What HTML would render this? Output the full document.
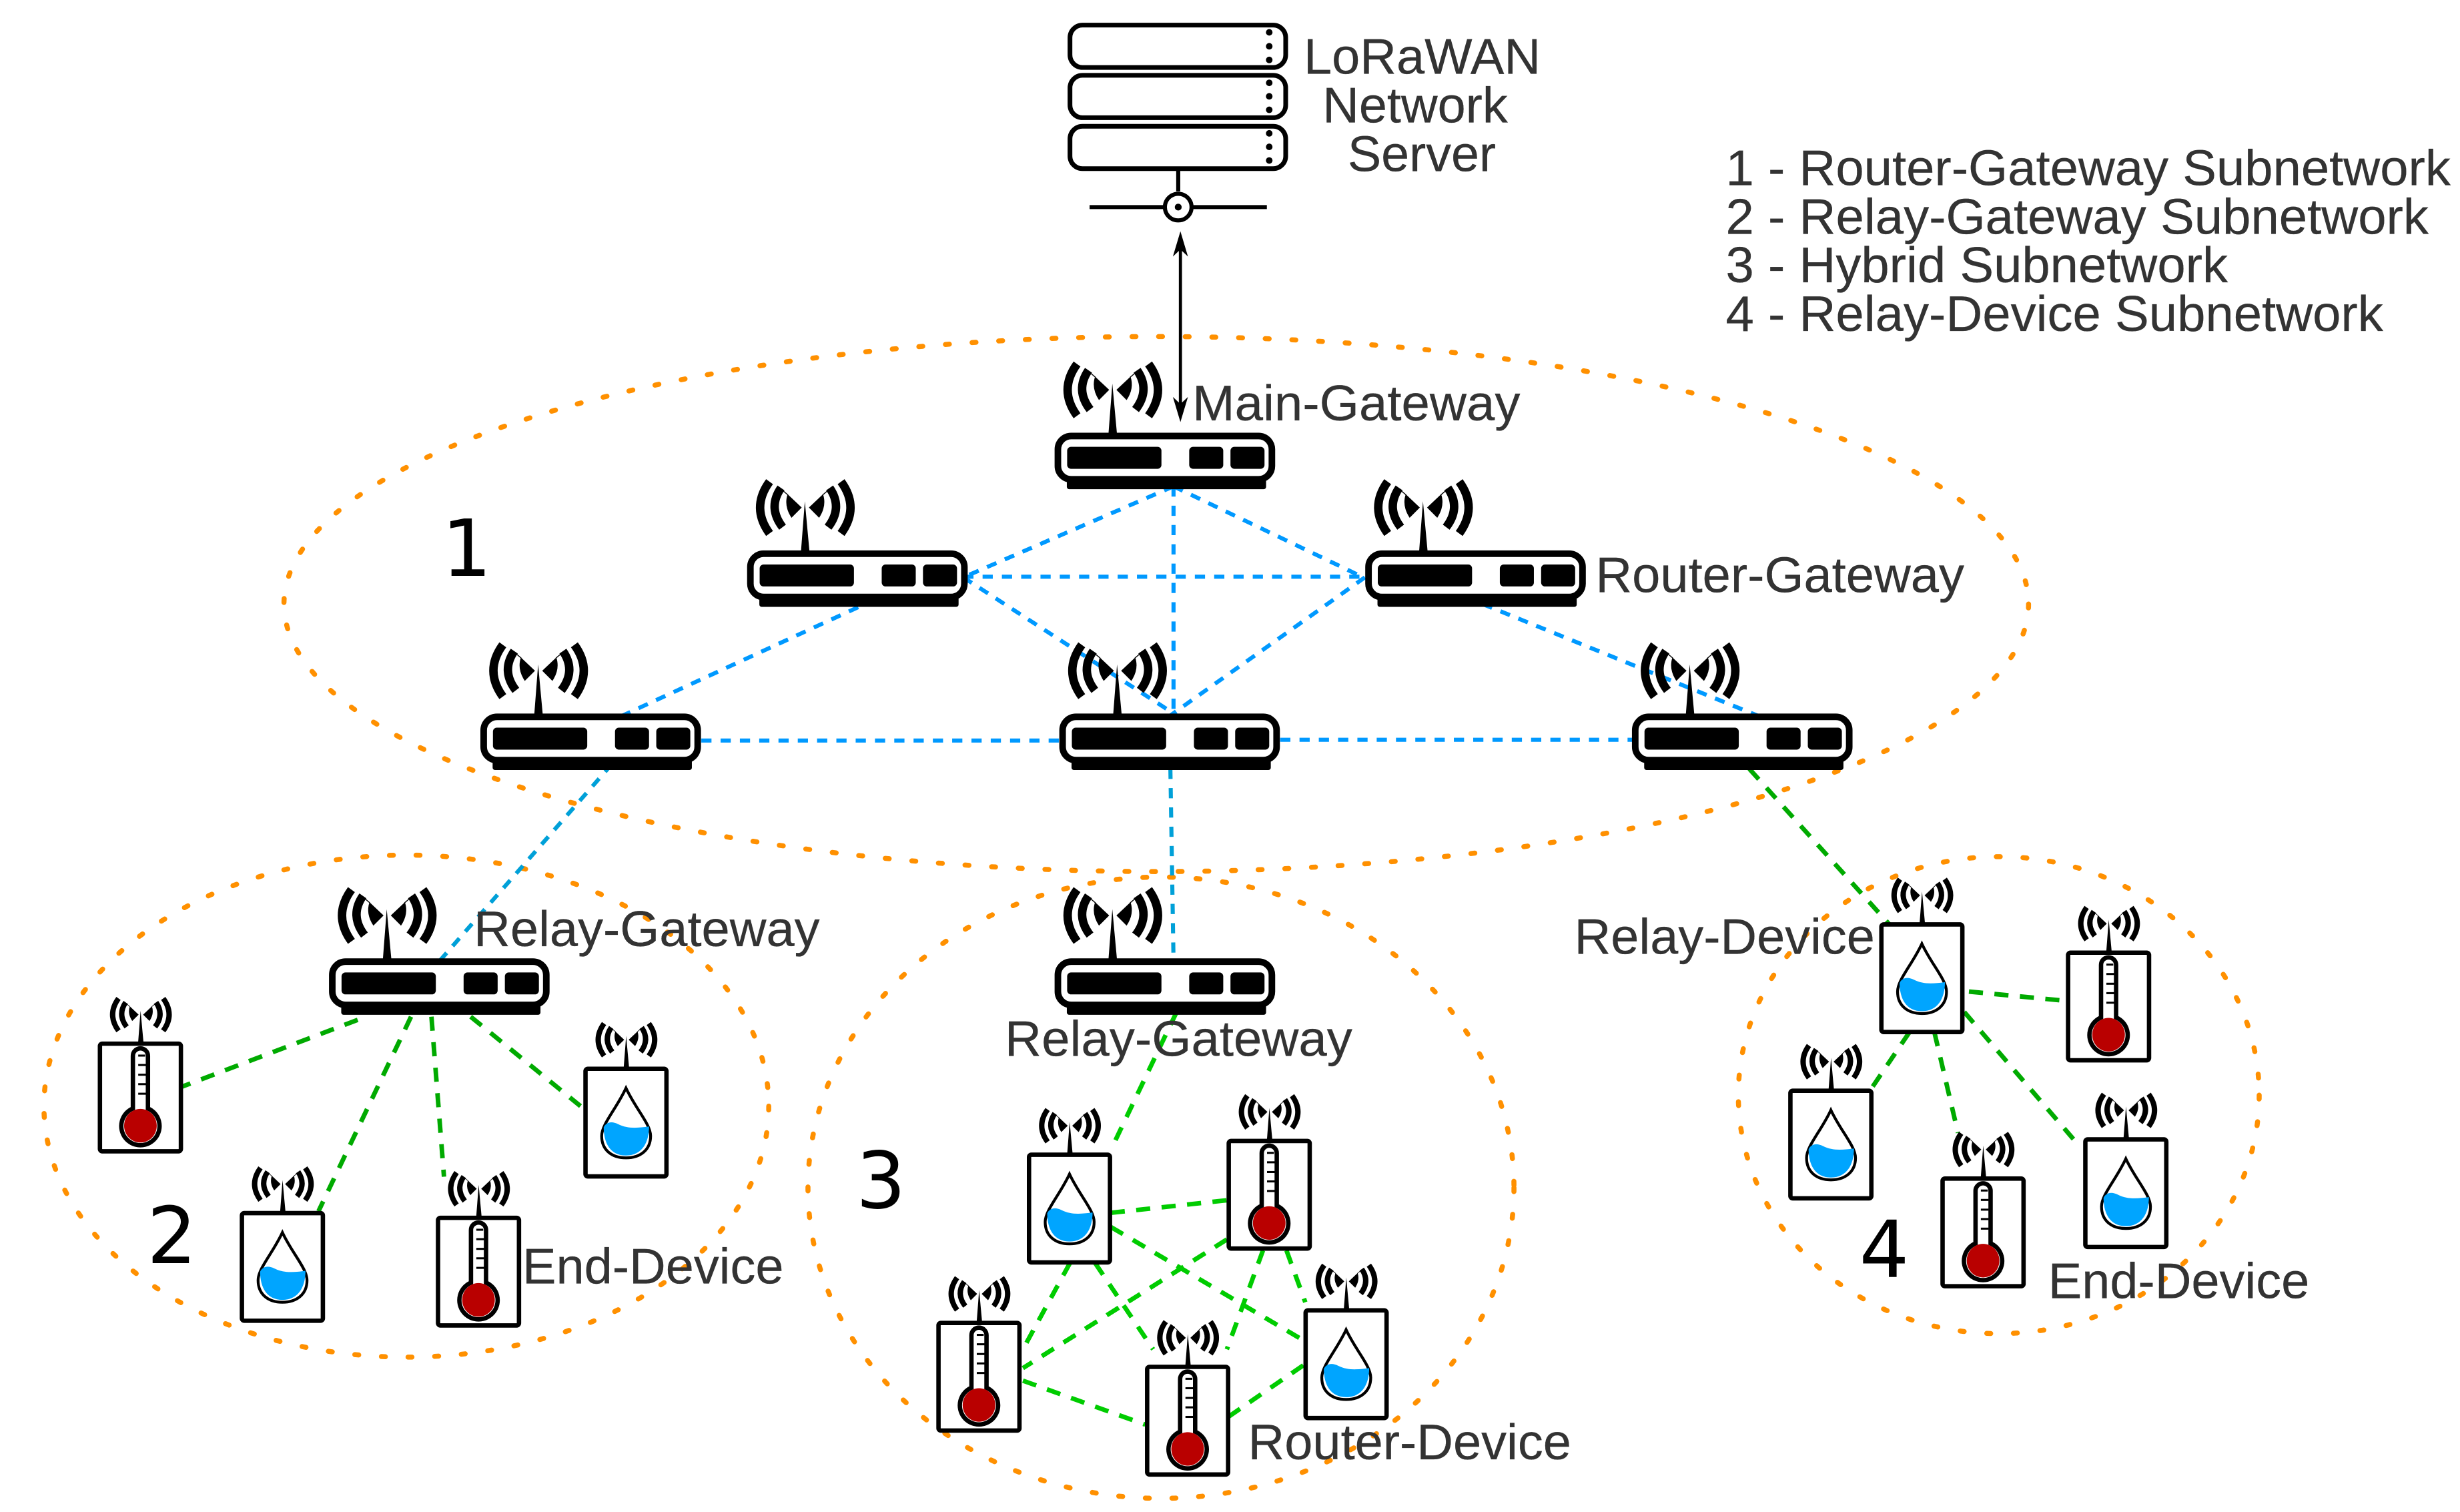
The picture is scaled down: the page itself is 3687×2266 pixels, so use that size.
<!DOCTYPE html>
<html><head><meta charset="utf-8"><style>
html,body{margin:0;padding:0;background:#fff}
svg{display:block}
text{font-family:"Liberation Sans",sans-serif;font-size:32px;fill:#333;stroke:#333;stroke-width:.12}
.n{font-family:"DejaVu Sans",sans-serif;font-size:50px;fill:#000;stroke:none;text-anchor:middle}
.o{fill:none;stroke:#ff9000;stroke-width:3.2;stroke-dasharray:2.5 14.5;stroke-linecap:round}
.b line{stroke:#0099ff;stroke-width:2.6;stroke-dasharray:6.5 5.8}
.g line{stroke:#00aa00;stroke-width:2.9;stroke-dasharray:9 7.3}
.g3 line{stroke:#00cc00}
</style></head><body>
<svg width="3687" height="2266" viewBox="0 0 1568 963.7" preserveAspectRatio="none" xmlns="http://www.w3.org/2000/svg">
<defs>
<g id="ant">
<polygon points="36,-32.5 33.5,0 39,0" fill="#000"/>
<g transform="translate(-.7,0)">
<g id="half" fill="none" stroke="#000" stroke-width="5.4">
<path d="M14.2,-45 Q2.2,-28.5 14.2,-12"/>
<path d="M21.5,-41 Q12.9,-28.5 22.5,-16"/>
<path d="M25.7,-37 L34.7,-28.5 L28.2,-22 Q23.2,-29.5 25.7,-37Z" fill="#000" stroke="none"/>
<line x1="19.5" y1="-42" x2="26" y2="-36.5" stroke-width=".6"/>
</g>
<use href="#half" transform="translate(74,0) scale(-1,1)"/>
</g>
</g>
<g id="router">
<use href="#ant"/>
<rect x="7" y="24" width="127" height="10.8" rx="1.5" fill="#000"/>
<rect x="1.3" y=".9" width="136.4" height="27.6" rx="8.5" fill="#fff" stroke="#000" stroke-width="4.2"/>
<rect x="7.2" y="7.8" width="60.1" height="14" rx="2.5" fill="#000"/>
<rect x="85" y="7.8" width="21.7" height="14" rx="2.5" fill="#000"/>
<rect x="111.3" y="7.8" width="21.7" height="14" rx="2.5" fill="#000"/>
</g>
<g id="dev">
<g transform="translate(4.6,0) scale(.625)"><use href="#ant"/></g>
<rect x="1.2" y=".7" width="51.6" height="68.6" rx="1.5" fill="#fff" stroke="#000" stroke-width="2.8"/>
</g>
<g id="th">
<use href="#dev"/>
<path d="M22.2,42 V8.5 a4.8,4.8 0 0 1 9.6,0 V42 a12.2,12.2 0 1 1 -9.6,0Z" fill="#fff" stroke="#000" stroke-width="2.8"/>
<ellipse cx="27" cy="53" rx="10.4" ry="10.7" fill="#b90000"/>
<g stroke="#000" stroke-width="1.3"><line x1="25.6" y1="8.3" x2="30" y2="8.3"/><line x1="25.6" y1="14.3" x2="30.5" y2="14.3"/><line x1="25.6" y1="20.5" x2="30.5" y2="20.5"/><line x1="25.6" y1="26.5" x2="30.5" y2="26.5"/><line x1="25.6" y1="32.6" x2="30.5" y2="32.6"/></g>
</g>
<g id="dr">
<use href="#dev"/>
<path d="M27,13 C21,26 11.5,36 11.5,43.5 C11.5,52.5 18,57.5 27,57.5 C36,57.5 42.7,52.5 42.7,43.5 C42.7,36 33,26 27,13Z" fill="#fff" stroke="#000" stroke-width="1.8"/>
<path d="M12.8,38 C14.5,34.5 18,34 22,36 C28,39 34,38.5 41.7,37.5 C41.7,48 37,56 27,56 C17,56 12.8,48 12.8,38Z" fill="#00a5ff"/>
</g>
</defs>

<ellipse class="o" cx="737" cy="385" rx="556" ry="170.5"/>
<ellipse class="o" cx="259" cy="705" rx="231" ry="160"/>
<ellipse class="o" cx="740" cy="757" rx="225" ry="198"/>
<ellipse class="o" cx="1274" cy="698" rx="166" ry="152"/>

<g class="b">
<line x1="748" y1="310" x2="614" y2="368"/>
<line x1="748" y1="310" x2="869" y2="368"/>
<line x1="748" y1="310" x2="748" y2="456"/>
<line x1="614" y1="367.6" x2="869" y2="367.6"/>
<line x1="614" y1="368" x2="750" y2="456"/>
<line x1="870" y1="368" x2="746" y2="456"/>
<line x1="547" y1="387" x2="397" y2="456"/>
<line x1="945" y1="385" x2="1120" y2="456"/>
<line x1="447" y1="472" x2="676" y2="472"/>
<line x1="816" y1="471.5" x2="1041" y2="471.5"/>
<line x1="746" y1="490" x2="748" y2="612" style="stroke:#00a0d8"/>
<line x1="390" y1="487" x2="278" y2="615" style="stroke:#00a0d8"/>
</g>
<g class="g">
<line x1="1115" y1="490" x2="1205" y2="590"/>
<line x1="228" y1="650" x2="115" y2="693"/>
<line x1="262" y1="648" x2="203" y2="772"/>
<line x1="275" y1="648" x2="283" y2="750"/>
<line x1="300" y1="648" x2="370" y2="705"/>
<line x1="1255" y1="632" x2="1318" y2="638"/>
<line x1="1217" y1="658" x2="1192" y2="695"/>
<line x1="1233" y1="658" x2="1248" y2="722"/>
<line x1="1252" y1="645" x2="1325" y2="730"/>
</g>
<g class="g g3">
<line x1="750" y1="645" x2="708" y2="733"/>
<line x1="708" y1="773" x2="782" y2="765"/>
<line x1="708" y1="782" x2="832" y2="855"/>
<line x1="682" y1="805" x2="652" y2="860"/>
<line x1="698" y1="805" x2="735" y2="860"/>
<line x1="782" y1="790" x2="652" y2="872"/>
<line x1="805" y1="797" x2="782" y2="860"/>
<line x1="820" y1="797" x2="832" y2="830"/>
<line x1="652" y1="880" x2="730" y2="908"/>
<line x1="783" y1="903" x2="831" y2="870"/>
</g>

<use href="#router" x="673" y="277"/>
<use href="#router" x="477" y="352"/>
<use href="#router" x="871" y="352"/>
<use href="#router" x="307" y="456"/>
<use href="#router" x="676" y="456"/>
<use href="#router" x="1041" y="456"/>
<use href="#router" x="210.5" y="612"/>
<use href="#router" x="673" y="612"/>

<use href="#th" x="62.5" y="664.5"/>
<use href="#th" x="278" y="775.5"/>
<use href="#th" x="1317" y="606.5"/>
<use href="#th" x="782" y="726.5"/>
<use href="#th" x="597" y="842.5"/>
<use href="#th" x="730" y="870.5"/>
<use href="#th" x="1237" y="750.5"/>
<use href="#dr" x="372" y="680.5"/>
<use href="#dr" x="153" y="772.5"/>
<use href="#dr" x="1198" y="588.5"/>
<use href="#dr" x="654.7" y="735.3"/>
<use href="#dr" x="831" y="834.5"/>
<use href="#dr" x="1140" y="694.5"/>
<use href="#dr" x="1328" y="725.5"/>

<g fill="#fff" stroke="#000" stroke-width="3">
<rect x="682" y="16" width="137.5" height="27" rx="8"/>
<rect x="682" y="48" width="137.5" height="27" rx="8"/>
<rect x="682" y="80.5" width="137.5" height="27" rx="8"/>
</g>
<g fill="#000">
<circle cx="809" cy="20.6" r="2.1"/><circle cx="809" cy="29.5" r="2.1"/><circle cx="809" cy="38.2" r="2.1"/>
<circle cx="809" cy="52.8" r="2.1"/><circle cx="809" cy="61.4" r="2.1"/><circle cx="809" cy="70" r="2.1"/>
<circle cx="809" cy="85" r="2.1"/><circle cx="809" cy="93.6" r="2.1"/><circle cx="809" cy="102.3" r="2.1"/>
</g>
<line x1="751" y1="107" x2="751" y2="122" stroke="#000" stroke-width="2.6"/>
<line x1="694.5" y1="132" x2="807.5" y2="132" stroke="#000" stroke-width="2.6"/>
<circle cx="751" cy="132" r="8.5" fill="#fff" stroke="#000" stroke-width="2.6"/>
<circle cx="751" cy="132" r="2.2" fill="#000"/>
<line x1="752.4" y1="155" x2="752.4" y2="262" stroke="#000" stroke-width="2"/>
<polygon points="752.4,147.4 757.2,163.5 752.4,159 747.6,163.5" fill="#000"/>
<polygon points="752.4,269 757.2,253 752.4,257.5 747.6,253" fill="#000"/>

<text x="831" y="47" textLength="151" lengthAdjust="spacingAndGlyphs">LoRaWAN</text>
<text x="843" y="78" textLength="118" lengthAdjust="spacingAndGlyphs">Network</text>
<text x="859" y="109" textLength="94.5" lengthAdjust="spacingAndGlyphs">Server</text>
<text x="1100" y="118" textLength="462" lengthAdjust="spacingAndGlyphs">1 - Router-Gateway Subnetwork</text>
<text x="1100" y="149" textLength="448" lengthAdjust="spacingAndGlyphs">2 - Relay-Gateway Subnetwork</text>
<text x="1100" y="180" textLength="320" lengthAdjust="spacingAndGlyphs">3 - Hybrid Subnetwork</text>
<text x="1100" y="211" textLength="419" lengthAdjust="spacingAndGlyphs">4 - Relay-Device Subnetwork</text>
<text x="760" y="268" textLength="209" lengthAdjust="spacingAndGlyphs">Main-Gateway</text>
<text x="1017" y="377.5" textLength="235" lengthAdjust="spacingAndGlyphs">Router-Gateway</text>
<text x="302" y="603" textLength="220.5" lengthAdjust="spacingAndGlyphs">Relay-Gateway</text>
<text x="640.5" y="673" textLength="221.5" lengthAdjust="spacingAndGlyphs">Relay-Gateway</text>
<text x="333" y="818" textLength="166.5" lengthAdjust="spacingAndGlyphs">End-Device</text>
<text x="1003.5" y="608" textLength="191.5" lengthAdjust="spacingAndGlyphs">Relay-Device</text>
<text x="1305.5" y="827.5" textLength="166.5" lengthAdjust="spacingAndGlyphs">End-Device</text>
<text x="795.5" y="930" textLength="206" lengthAdjust="spacingAndGlyphs">Router-Device</text>
<text class="n" x="297.5" y="367">1</text>
<text class="n" x="109.5" y="805">2</text>
<text class="n" x="561.5" y="770">3</text>
<text class="n" x="1201" y="814">4</text>
</svg>
</body></html>
